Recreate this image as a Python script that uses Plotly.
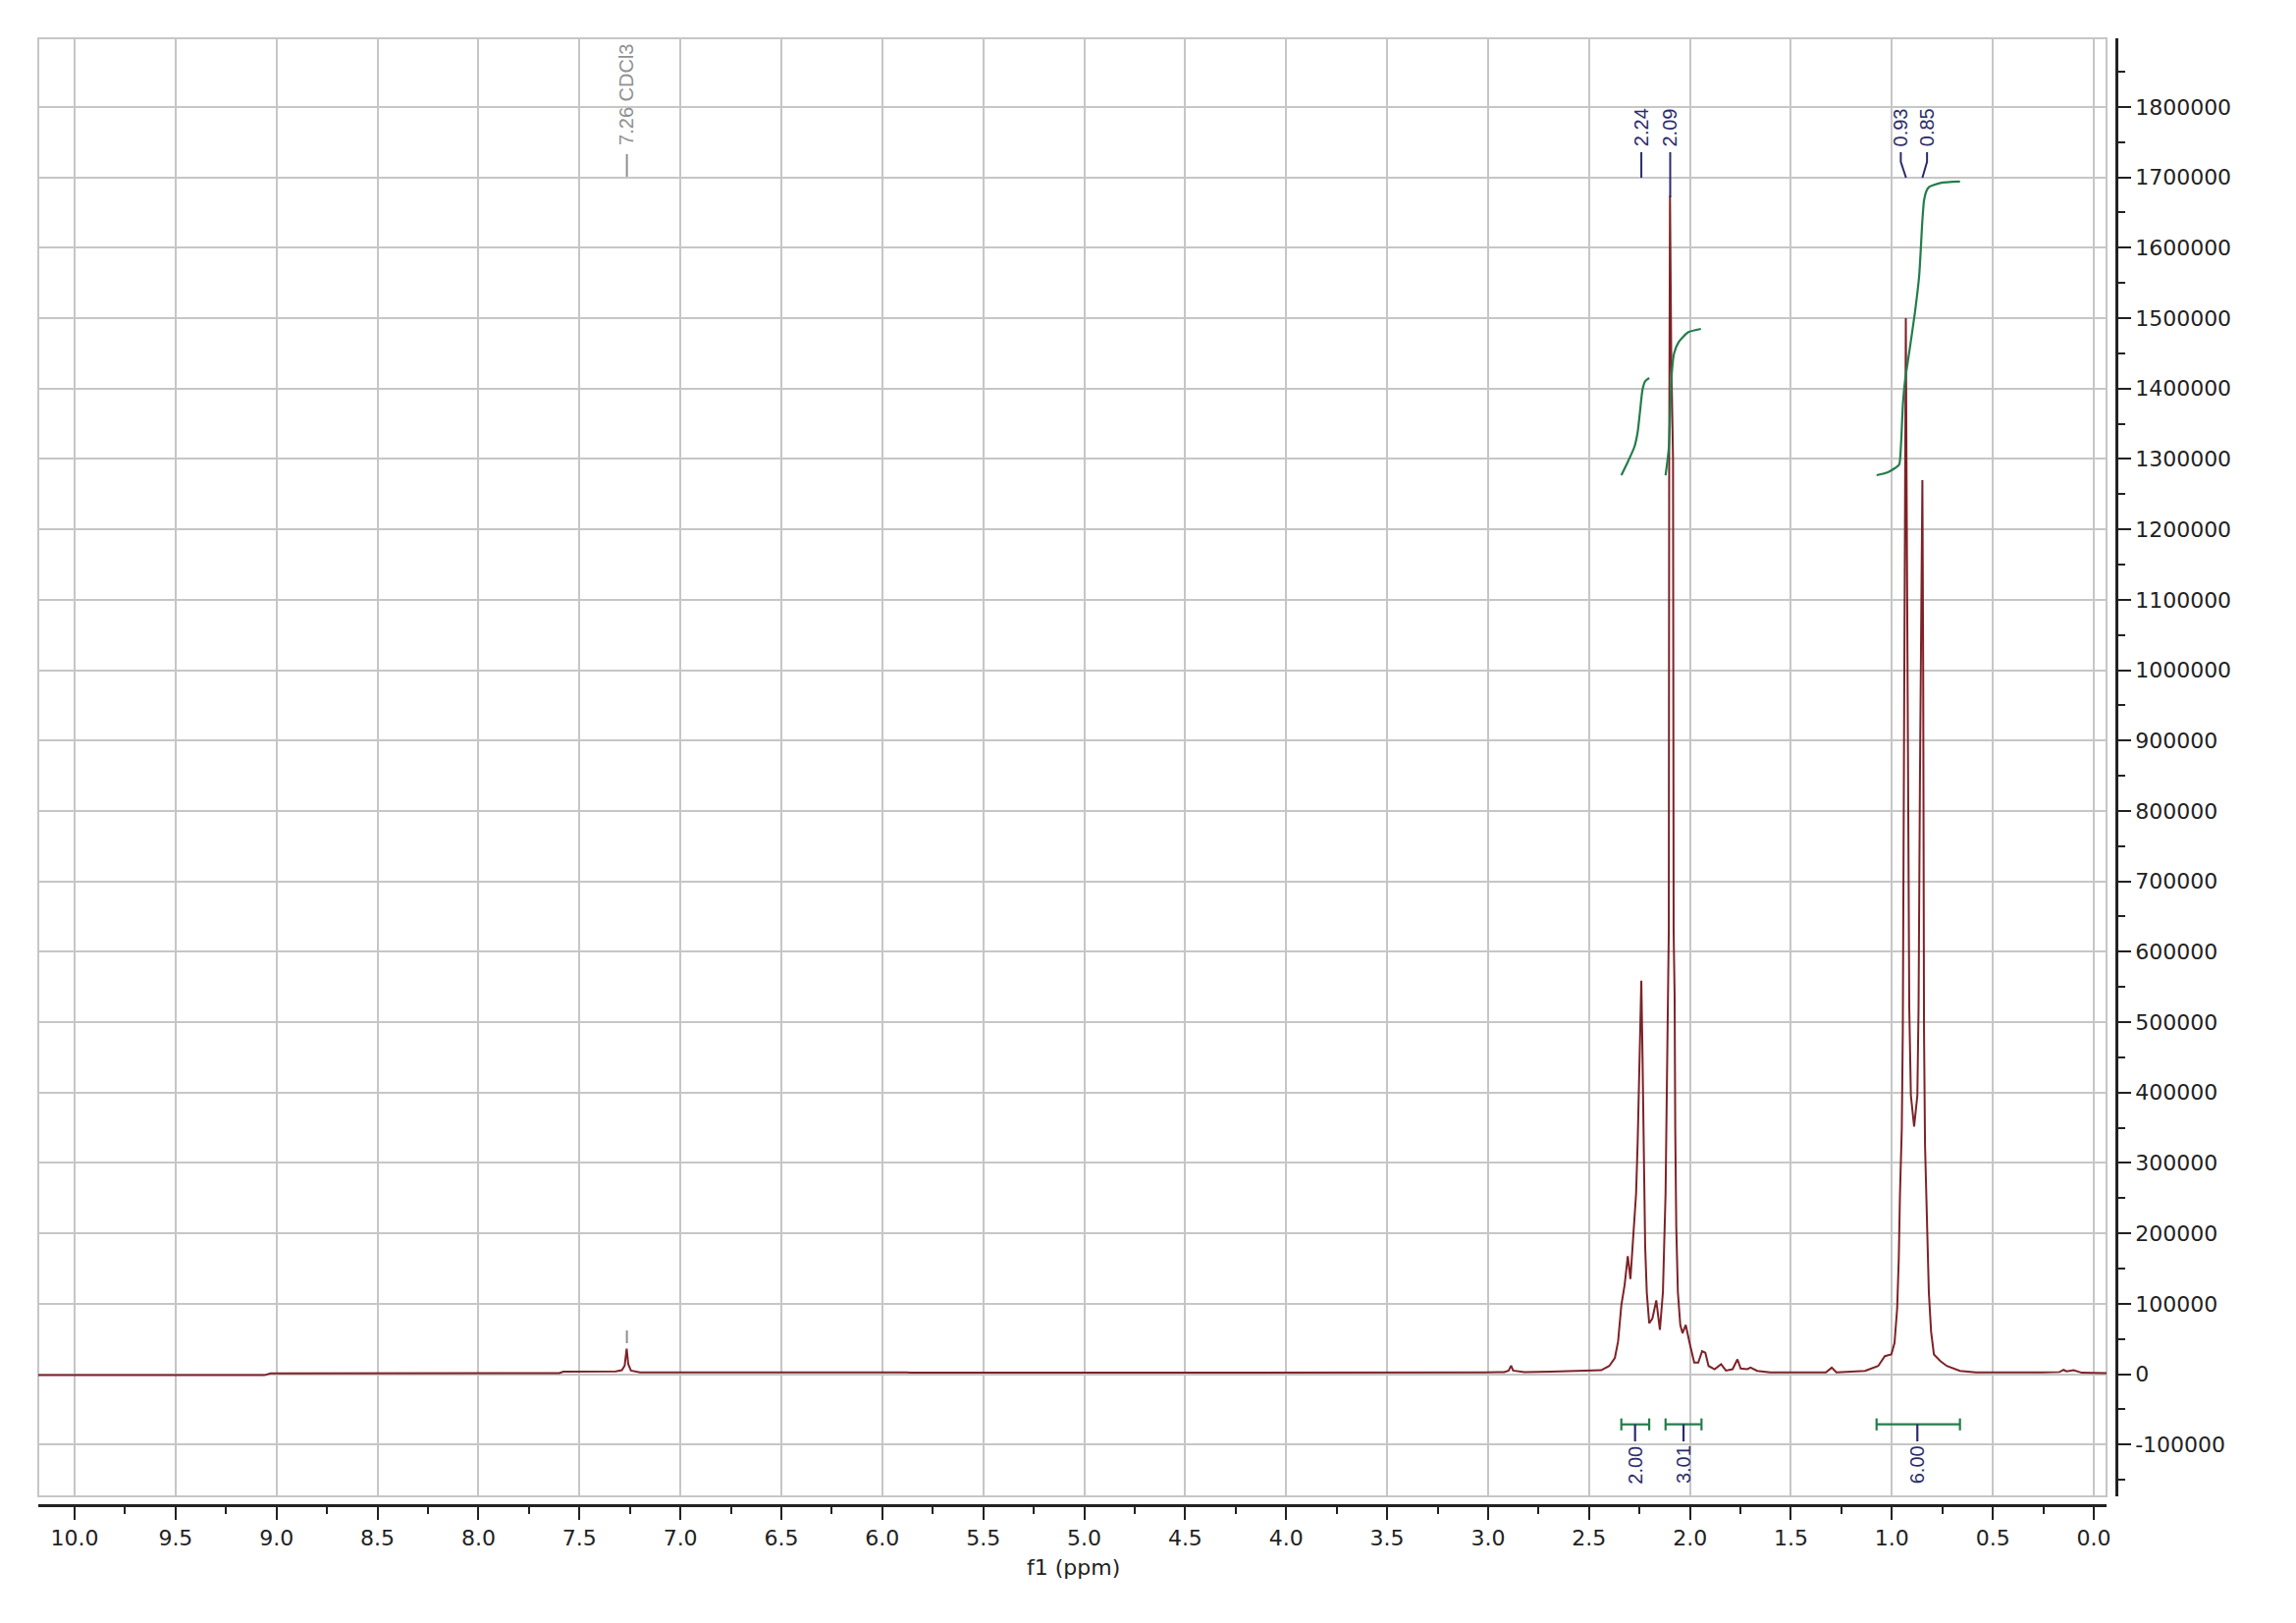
import plotly.graph_objects as go

# ---------------- data ----------------
SPEC_PPM = [10.18, 9.06, 9.03, 7.60, 7.58, 7.32, 7.29, 7.276, 7.266, 7.258, 7.245, 7.20,
            5.88, 5.86, 3.02, 2.92, 2.898, 2.886, 2.876, 2.82, 2.69, 2.54, 2.44, 2.40,
            2.372, 2.356, 2.340, 2.324, 2.308, 2.295, 2.280, 2.267, 2.259, 2.254, 2.248,
            2.241, 2.236, 2.230, 2.222, 2.214, 2.202, 2.186, 2.167, 2.149, 2.134, 2.121,
            2.113, 2.105, 2.103, 2.099, 2.093, 2.084, 2.081, 2.076, 2.073, 2.068, 2.060,
            2.048, 2.037, 2.021, 2.000, 1.979, 1.959, 1.940, 1.924, 1.908, 1.878, 1.846,
            1.822, 1.789, 1.765, 1.749, 1.716, 1.700, 1.667, 1.603, 1.327, 1.298, 1.275,
            1.230, 1.133, 1.068, 1.035, 1.003, 0.987, 0.974, 0.966, 0.960, 0.951, 0.946,
            0.940, 0.935, 0.931, 0.927, 0.921, 0.914, 0.906, 0.890, 0.874, 0.868, 0.861,
            0.855, 0.849, 0.845, 0.841, 0.836, 0.828, 0.817, 0.806, 0.792, 0.760, 0.728,
            0.663, 0.583, 0.258, 0.17, 0.15, 0.135, 0.10, 0.08, 0.06, -0.063]
SPEC_INT = [-1500, -1500, 1000, 1500, 3500, 4000, 5500, 12000, 36000, 14000, 5000, 2500,
            2500, 2000, 2500, 3000, 5000, 12000, 5000, 3000, 3500, 4600, 5500, 11600,
            23000, 46500, 97800, 126000, 167600, 135000, 195600, 256000, 330700, 405000, 470000,
            558800, 470000, 302700, 181600, 116400, 72200, 79200, 104800, 62900, 116400, 256000,
            442000, 628700, 1300000, 1674000, 1450000, 1300000, 628700, 535500, 349000, 209500, 116400,
            69800, 58200, 69800, 41900, 16300, 16300, 32600, 30300, 11600, 7000, 14000,
            5000, 7000, 21000, 7900, 7000, 9300, 4600, 2400, 2400, 9300, 2400,
            3000, 4600, 11600, 25600, 28000, 44300, 93200, 163000, 256000, 349000, 489000,
            900000, 1300000, 1500000, 1250000, 850000, 520000, 395800, 351600, 395800, 520000, 850000,
            1150000, 1270000, 1000000, 489000, 326000, 228000, 116000, 60500, 28000, 18600, 11600,
            4600, 2400, 2400, 3000, 6000, 4000, 5500, 4000, 2000, 1500]

# integral curves
INT_A_PPM = [2.340, 2.307, 2.275, 2.259, 2.248, 2.235, 2.222, 2.202]
INT_A_VAL = [1276800, 1296400, 1317300, 1338200, 1366000, 1398600, 1410300, 1414900]
INT_B_PPM = [2.121, 2.105, 2.097, 2.090, 2.079, 2.056, 2.008, 1.946]
INT_B_VAL = [1276800, 1314900, 1375500, 1421900, 1449800, 1466100, 1480100, 1484700]
INT_C_PPM = [1.076, 1.020, 0.985, 0.964, 0.955, 0.945, 0.935, 0.915, 0.886, 0.865,
             0.849, 0.841, 0.830, 0.817, 0.760, 0.663]
INT_C_VAL = [1276800, 1281000, 1287000, 1292000, 1320000, 1380000, 1411000, 1450000,
             1508000, 1560000, 1639000, 1667000, 1680000, 1686000, 1692000, 1694000]

# integration ranges and values
INTEG_FROM = [2.340, 2.121, 1.076]
INTEG_TO = [2.202, 1.943, 0.663]
INTEG_MID = [2.272, 2.032, 0.874]
INTEG_TEXT = ["2.00", "3.01", "6.00"]

# peak picking
PEAK_TEXT = ["2.24", "2.09", "0.93", "0.85"]
PEAK_PPM = [2.241, 2.098, 0.930, 0.849]
PEAK_LABEL_PPM = [2.241, 2.098, 0.956, 0.826]
PEAK_TOP = [1699400, 1671500, 1699400, 1699400]

SOLVENT_TEXT = "7.26 CDCl3"
SOLVENT_PPM = 7.265

X_TICKS = [10.0, 9.5, 9.0, 8.5, 8.0, 7.5, 7.0, 6.5, 6.0, 5.5, 5.0, 4.5, 4.0, 3.5,
           3.0, 2.5, 2.0, 1.5, 1.0, 0.5, 0.0]
X_TICK_TEXT = ["%.1f" % v for v in X_TICKS]
Y_TICKS = list(range(-100000, 1800001, 100000))
Y_TICK_TEXT = [str(v) for v in Y_TICKS]

X_RANGE = [10.18, -0.063]
Y_RANGE = [-173600, 1897500]

# ---------------- styling ----------------
RED = "#7d2328"
GREEN = "#237d4b"
NAVY = "#2b2c6b"
GREY = "#8f8f8f"
GRID = "#c6c6c6"
AXIS = "#222222"

# the page body has an 8px default margin; compensate so the plot lands where intended
OFF = 8
W, H = 2339, 1653
ML, MT = 39 - OFF, 39 - OFF
MR = W - (2156 - OFF)
MB = H - (1533 - OFF)
plot_w = W - ML - MR
plot_h = H - MT - MB
x_dom_end = (2146 - 39) / plot_w
y_dom_start = (1533 - 1524) / plot_h

fig = go.Figure()

# spectrum
fig.add_trace(go.Scatter(x=SPEC_PPM, y=SPEC_INT, mode="lines",
                         line=dict(color=RED, width=2), hoverinfo="skip"))

# integral curves
for px, py in [(INT_A_PPM, INT_A_VAL), (INT_B_PPM, INT_B_VAL), (INT_C_PPM, INT_C_VAL)]:
    fig.add_trace(go.Scatter(x=px, y=py, mode="lines", line=dict(color=GREEN, width=2.2,
                             shape="spline", smoothing=0.6), hoverinfo="skip"))

# integration bars
BAR_Y = -71400
CAP = 8500
TICK_BOTTOM = -95500
gx, gy, nx, ny = [], [], [], []
for a, b, m in zip(INTEG_FROM, INTEG_TO, INTEG_MID):
    gx += [a, b, None, a, a, None, b, b, None]
    gy += [BAR_Y, BAR_Y, None, BAR_Y - CAP, BAR_Y + CAP, None, BAR_Y - CAP, BAR_Y + CAP, None]
    nx += [m, m, None]
    ny += [BAR_Y, TICK_BOTTOM, None]
fig.add_trace(go.Scatter(x=gx, y=gy, mode="lines", line=dict(color=GREEN, width=2.2),
                         hoverinfo="skip"))
fig.add_trace(go.Scatter(x=nx, y=ny, mode="lines", line=dict(color=NAVY, width=2.2),
                         hoverinfo="skip"))

# peak label leader lines
LINE_TOP = 1735700
LINE_BEND = 1722000
lx, ly = [], []
for lp, pp, top in zip(PEAK_LABEL_PPM, PEAK_PPM, PEAK_TOP):
    lx += [lp, lp, pp, pp, None]
    ly += [LINE_TOP, LINE_BEND, 1699400, top, None]
fig.add_trace(go.Scatter(x=lx, y=ly, mode="lines", line=dict(color=NAVY, width=2),
                         hoverinfo="skip"))
# solvent leader + marker
fig.add_trace(go.Scatter(x=[SOLVENT_PPM, SOLVENT_PPM, None, SOLVENT_PPM, SOLVENT_PPM],
                         y=[1732900, 1700800, None, 62000, 44000], mode="lines",
                         line=dict(color=GREY, width=2), hoverinfo="skip"))

annotations = []
for t, lp in zip(PEAK_TEXT, PEAK_LABEL_PPM):
    annotations.append(dict(x=lp, y=1740500, xref="x", yref="y", text=t, showarrow=False,
                            textangle=-90, xanchor="center", yanchor="bottom",
                            font=dict(family="Liberation Sans, Arial", size=20, color=NAVY)))
annotations.append(dict(x=SOLVENT_PPM, y=1743000, xref="x", yref="y", text=SOLVENT_TEXT,
                        showarrow=False, textangle=-90, xanchor="center", yanchor="bottom",
                        font=dict(family="Liberation Sans, Arial", size=20, color=GREY)))
for t, m in zip(INTEG_TEXT, INTEG_MID):
    annotations.append(dict(x=m, y=-99000, xref="x", yref="y", text=t, showarrow=False,
                            textangle=-90, xanchor="center", yanchor="top",
                            font=dict(family="Liberation Sans, Arial", size=20, color=NAVY)))
annotations.append(dict(x=(1093 - 39) / plot_w, y=-(1596 - 1533) / plot_h, xref="paper",
                        yref="paper", text="f1 (ppm)", showarrow=False, xanchor="center",
                        yanchor="middle",
                        font=dict(family="DejaVu Sans, Verdana", size=22, color=AXIS)))

fig.update_layout(
    width=W, height=H,
    margin=dict(l=ML, r=MR, t=MT, b=MB, pad=0),
    paper_bgcolor="white", plot_bgcolor="white",
    showlegend=False,
    annotations=annotations,
    shapes=[dict(type="rect", xref="paper", yref="paper", x0=0, x1=x_dom_end,
                 y0=y_dom_start, y1=1, line=dict(color=GRID, width=2), layer="below")],
    xaxis=dict(
        domain=[0, x_dom_end], anchor="free", position=0,
        range=X_RANGE, autorange=False,
        tickmode="array", tickvals=X_TICKS, ticktext=X_TICK_TEXT,
        ticks="outside", ticklen=13, tickwidth=2, tickcolor=AXIS,
        minor=dict(dtick=0.25, tick0=0, ticks="outside", ticklen=7, tickwidth=2,
                   tickcolor=AXIS, showgrid=False),
        showline=True, linecolor=AXIS, linewidth=2.5,
        showgrid=True, gridcolor=GRID, gridwidth=2, zeroline=False,
        tickfont=dict(family="DejaVu Sans, Verdana", size=22, color=AXIS),
    ),
    yaxis=dict(
        domain=[y_dom_start, 1], anchor="free", position=1, side="right",
        range=Y_RANGE, autorange=False,
        tickmode="array", tickvals=Y_TICKS, ticktext=Y_TICK_TEXT,
        ticks="outside", ticklen=13, tickwidth=2, tickcolor=AXIS,
        minor=dict(dtick=50000, tick0=0, ticks="outside", ticklen=7, tickwidth=2,
                   tickcolor=AXIS, showgrid=False),
        showline=True, linecolor=AXIS, linewidth=2.5,
        showgrid=True, gridcolor=GRID, gridwidth=2, zeroline=False,
        tickfont=dict(family="DejaVu Sans, Verdana", size=22, color=AXIS),
    ),
)

fig.write_html("out.html")
